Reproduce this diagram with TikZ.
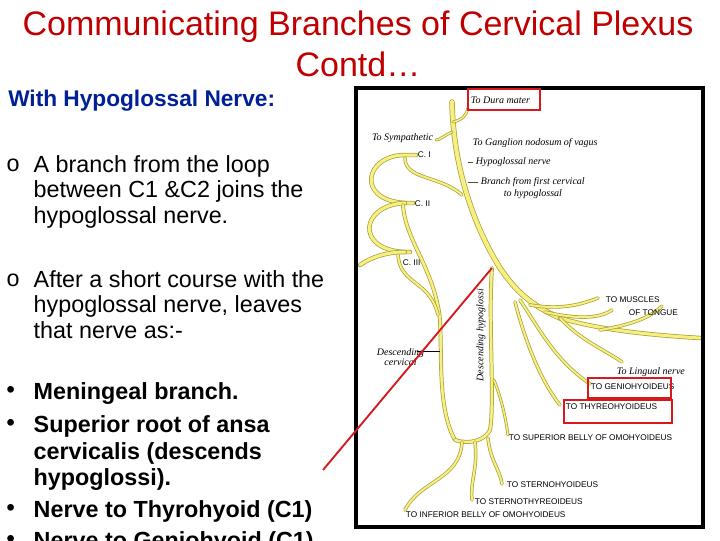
\documentclass[tikz,border=0pt]{standalone}
\usepackage{fontspec}
\setmainfont{Liberation Sans}
\newfontfamily\serif{Liberation Serif}
\definecolor{titlered}{RGB}{192,0,0}
\definecolor{subblue}{RGB}{0,32,150}
\definecolor{nerveY}{RGB}{246,240,130}
\definecolor{nerveO}{RGB}{170,160,60}
\definecolor{boxred}{RGB}{215,25,30}
\newcommand\nv[2][4]{\draw[nerveO,line width=#1*0.75pt+1.1pt,line cap=round,line join=round] #2;
 \draw[nerveY,line width=#1*0.75pt,line cap=round,line join=round] #2;}
\tikzset{
 body/.style={anchor=west,font=\fontsize{17.5}{19}\selectfont,align=left},
 bbody/.style={anchor=west,font=\bfseries\fontsize{17.5}{19.9}\selectfont,align=left},
 lab/.style={font=\serif\itshape\fontsize{7.5}{8}\selectfont,inner sep=0.5pt},
 caplab/.style={font=\fontsize{6.2}{7}\selectfont,inner sep=0.5pt,anchor=west},
 redbox/.style={draw=boxred,line width=2.2pt},
}
\begin{document}
\begin{tikzpicture}[x=0.75pt,y=-0.75pt]
\useasboundingbox (0,0) rectangle (720,540);
\clip (0,0) rectangle (720,540);
% title
\node[text=titlered,font=\fontsize{25.5}{28}\selectfont] (t1) at (358,27) {Communicating Branches of Cervical Plexus};
\node[text=titlered,font=\fontsize{25.5}{28}\selectfont] (t2) at (358,64) {Contd…};
\node[text=subblue,font=\bfseries\fontsize{17}{19}\selectfont,anchor=west,inner sep=0] (sub) at (8,101) {With Hypoglossal Nerve:};
% body text
\node[body] (o1) at (2,165) {o};
\node[body,anchor=north west] (p1) at (29,151) {A branch from the loop\\between C1 \&C2 joins the\\hypoglossal nerve.};
\node[body] (o2) at (2,280) {o};
\node[body,anchor=north west] (p2) at (29,266) {After a short course with the\\hypoglossal nerve, leaves\\that nerve as:-};
\node[bbody] (b1) at (2,392) {•};
\node[bbody,anchor=north west] (q1) at (29,378) {Meningeal branch.};
\node[bbody] (b2) at (2,425) {•};
\node[bbody,anchor=north west] (q2) at (29,411) {Superior root of ansa\\cervicalis (descends\\hypoglossi).};
\node[bbody] (b3) at (2,510) {•};
\node[bbody,anchor=north west] (q3) at (29,496) {Nerve to Thyrohyoid (C1)};
\node[bbody] (b4) at (2,541) {•};
\node[bbody,anchor=north west] (q4) at (29,527) {Nerve to Geniohyoid (C1)};
% illustration frame
\fill[white] (356,88) rectangle (703,527);
% nerves
\nv[4]{(452,102) .. controls (453,160) and (470,220) .. (500,268) .. controls (515,290) and (530,305) .. (560,318)}
\nv[3]{(560,318) .. controls (600,330) and (650,335) .. (700,338)}
\nv[2]{(530,305) .. controls (560,310) and (580,305) .. (598,298)}
\nv[2]{(545,312) .. controls (580,320) and (600,318) .. (612,310)}
\nv[2]{(600,330) .. controls (630,325) and (650,318) .. (662,306)}
\nv[2]{(560,318) .. controls (580,340) and (605,350) .. (622,362)}
\nv[2]{(520,300) .. controls (540,330) and (555,360) .. (590,384)}
\nv[2]{(515,302) .. controls (525,340) and (540,380) .. (560,405)}
% sympathetic / dura
\nv[1.5]{(453,122) .. controls (462,120) and (467,115) .. (468,108)}
\nv[1.5]{(452,132) .. controls (445,135) and (440,140) .. (436,140)}
% C loops
\nv[3]{(416,155) -- (405,155) .. controls (365,155) and (355,200) .. (405,203) -- (413,203)}
\nv[3]{(405,203) .. controls (360,205) and (355,250) .. (405,252) -- (410,252)}
\nv[3]{(405,252) .. controls (385,252) and (370,258) .. (360,265)}
\nv[2]{(405,158) .. controls (405,180) and (440,175) .. (462,195)}
% descending cervical
\nv[2.5]{(403,205) .. controls (405,240) and (435,270) .. (440,320) .. controls (442,360) and (438,410) .. (455,440)}
\nv[2]{(398,255) .. controls (400,285) and (430,280) .. (438,315)}
% descending hypoglossi
\nv[2.5]{(492,268) .. controls (488,320) and (495,400) .. (490,430) .. controls (485,440) and (470,445) .. (455,440)}
\nv[1.5]{(494,380) .. controls (502,400) and (506,420) .. (508,435)}
% loop branches
\nv[2]{(462,442) .. controls (460,480) and (420,480) .. (405,510)}
\nv[2]{(475,442) .. controls (478,470) and (470,480) .. (472,500)}
\nv[2]{(488,438) .. controls (490,460) and (500,470) .. (502,484)}
% frame
\draw[black,line width=3pt] (356,88) rectangle (703,527);
% labels
\node[lab,anchor=west] (dura) at (470,100) {To Dura mater};
\draw[redbox] (468,89) rectangle (540,110);
\node[lab,anchor=east] (symp) at (434,138) {To Sympathetic};
\node[lab,anchor=west] (gang) at (472,143) {To Ganglion nodosum of vagus};
\node[lab,anchor=west] (hyp) at (475,162) {Hypoglossal nerve};
\node[lab,anchor=west] (br1) at (480,182) {Branch from first cervical};
\node[lab,anchor=west] (br2) at (503,194) {to hypoglossal};
\draw[nerveO!50!black,line width=0.3pt] (473,162) -- (468,162);
\draw[nerveO!50!black,line width=0.3pt] (478,182) -- (468,182);
\node[caplab] (c1) at (417,155) {C. I};
\node[caplab] (c2) at (414,204) {C. II};
\node[caplab] (c3) at (402,263) {C. III};
\node[lab,anchor=west,align=center] (dc) at (376,357) {Descending\\cervical};
\draw[black,line width=0.3pt] (417,351) -- (440,351);
\node[lab,rotate=90] (dh) at (481,335) {Descending hypoglossi};
\node[caplab] (mus) at (605,300) {TO MUSCLES};
\node[caplab] (ton) at (628,313) {OF TONGUE};
\node[lab,anchor=west] (ling) at (616,372) {To Lingual nerve};
\node[caplab] (gen) at (590,387) {TO GENIOHYOIDEUS};
\draw[redbox] (588,378) rectangle (671,398);
\node[caplab] (thy) at (565,407) {TO THYREOHYOIDEUS};
\draw[redbox] (564,400) rectangle (672,423);
\node[caplab] (sup) at (508,438) {TO SUPERIOR BELLY OF OMOHYOIDEUS};
\node[caplab] (sh) at (506,485) {TO STERNOHYOIDEUS};
\node[caplab] (st) at (474,502) {TO STERNOTHYREOIDEUS};
\node[caplab] (inf) at (405,515) {TO INFERIOR BELLY OF OMOHYOIDEUS};
% red pointer
\coordinate (rs) at (323,470);
\coordinate (re) at (492,268);
\draw[boxred,line width=1.4pt] (rs) -- (re);
\end{tikzpicture}
\end{document}
